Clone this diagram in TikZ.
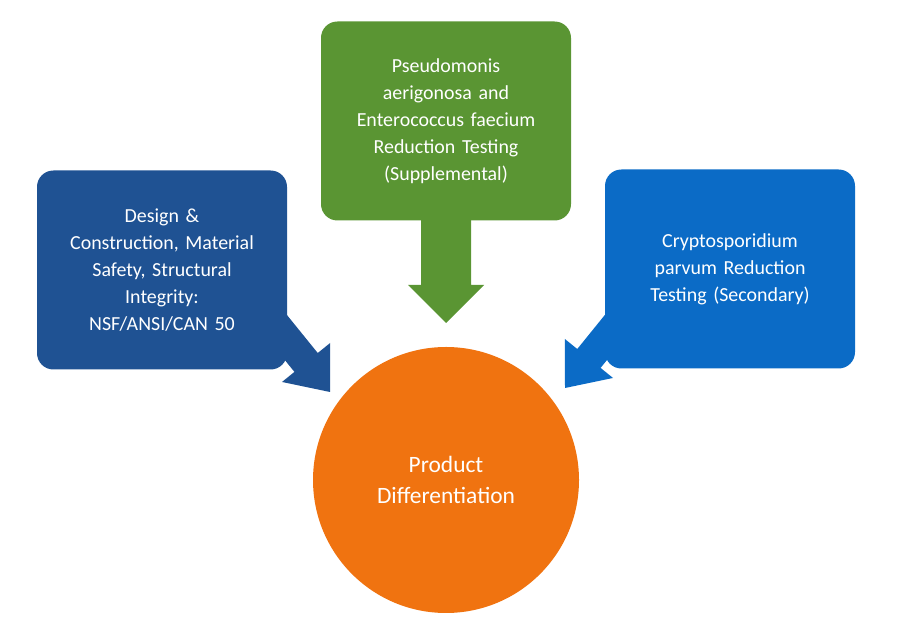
\documentclass[tikz,border=0pt]{standalone}
\usepackage{fontspec}
\setmainfont{Carlito}
\usetikzlibrary{positioning}
\definecolor{darkblue}{HTML}{1F5293}
\definecolor{leafgreen}{HTML}{5A9533}
\definecolor{midblue}{HTML}{0B6BC6}
\definecolor{orangefill}{HTML}{F07310}
\tikzset{box/.style={rounded corners=14pt,minimum width=250*0.03cm,minimum height=199*0.03cm,text width=235*0.03cm,align=center,text=white,font=\fontsize{17}{23}\selectfont}}
\newcommand{\blockarrow}[5]{% tip, angle, half shaft, half head, colour
  \fill[#5,shift={#1},rotate=#2] (0,0) -- (-38,#4) -- (-38,#3) -- (-90,#3) -- (-90,-#3) -- (-38,-#3) -- (-38,-#4) -- cycle;}
\begin{document}
\begin{tikzpicture}[x=0.03cm,y=0.03cm]
\useasboundingbox (0,0) rectangle (903,625);
% arrows behind the boxes
\blockarrow{(330,233)}{-51}{15}{31}{darkblue}
\blockarrow{(565,237)}{-129}{15}{31}{midblue}
\fill[leafgreen] (446,302) -- (408,340) -- (421,340) -- (421,410) -- (471,410) -- (471,340) -- (484,340) -- cycle;
% boxes
\node[box,fill=darkblue] (design) at (162,355) {Design \&\\Construction, Material\\Safety, Structural\\Integrity:\\NSF/ANSI/CAN 50};
\node[box,fill=leafgreen] (pseudo) at (446,504) {Pseudomonis\\aerigonosa and\\Enterococcus faecium\\Reduction Testing\\(Supplemental)};
\node[box,fill=midblue] (crypto) at (730,356) {Cryptosporidium\\parvum Reduction\\Testing (Secondary)};
% centre
\node[circle,fill=orangefill,minimum size=266*0.03cm,align=center,text=white,font=\fontsize{20}{27}\selectfont] (product) at (446,145) {Product\\Differentiation};
\end{tikzpicture}
\end{document}
